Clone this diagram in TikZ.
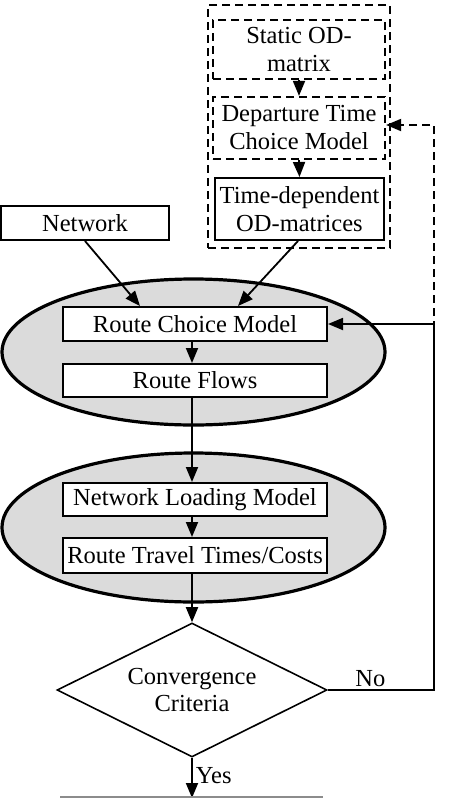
\documentclass[tikz,border=0pt]{standalone}
\usepackage{fontspec}
\setmainfont{Liberation Serif}
\usetikzlibrary{arrows.meta,shapes.geometric}
\begin{document}
\begin{tikzpicture}[x=1pt,y=-1pt,
  font=\fontsize{24.5}{28}\selectfont,
  box/.style={draw,line width=2pt,fill=white,inner sep=0pt,align=center},
  dbox/.style={draw,line width=2.2pt,dash pattern=on 8pt off 5pt,inner sep=0pt,align=center},
  ell/.style={draw,ellipse,line width=3.2pt,fill=black!14,inner sep=0pt},
  arr/.style={line width=1.8pt,-{Triangle[length=15pt,width=12pt]}},
  darr/.style={line width=1.8pt,dash pattern=on 8pt off 5pt,-{Triangle[length=15pt,width=12pt]}}]
\useasboundingbox (0,0) rectangle (474,798);
% dashed group
\node[dbox,minimum width=182pt,minimum height=243pt] (grp) at (299,126.5) {};
\node[dbox,minimum width=172pt,minimum height=59pt] (stat) at (299,49.5) {Static OD-\\matrix};
\node[dbox,minimum width=172pt,minimum height=62pt] (dep) at (299,128) {Departure Time\\Choice Model};
\node[box,minimum width=169pt,minimum height=62pt] (td) at (299.5,209) {Time-dependent\\OD-matrices};
\node[box,minimum width=168pt,minimum height=34pt] (net) at (85,223) {Network};
% ellipses
\node[ell,minimum width=383pt,minimum height=146pt] (ell1) at (193.5,352) {};
\node[ell,minimum width=383pt,minimum height=149pt] (ell2) at (193.5,527.5) {};
\node[box,minimum width=264pt,minimum height=34pt] (rcm) at (195,324) {Route Choice Model};
\node[box,minimum width=264pt,minimum height=33pt] (rf) at (195,380.5) {Route Flows};
\node[box,minimum width=264pt,minimum height=33pt] (nlm) at (195,499.5) {Network Loading Model};
\node[box,minimum width=264pt,minimum height=35pt] (rtt) at (195,555.5) {Route Travel Times/Costs};
\node[draw,diamond,line width=1.6pt,inner sep=0pt,aspect=2,minimum width=270pt,minimum height=134pt,align=center] (conv) at (192,690) {Convergence\\Criteria};
\coordinate (nocorner) at (434,324);
\coordinate (outend) at (192,798);
% connectors
\draw[arr] (stat.south) -- (dep.north);
\draw[arr] (dep.south) -- (td.north);
\draw[arr] (net.south) -- ([xshift=-55pt]rcm.north);
\draw[arr] ([xshift=-1.5pt]td.south) -- ([xshift=43pt]rcm.north);
\draw[arr] (rcm.south -| conv.center) -- (rf.north -| conv.center);
\draw[arr] (rf.south -| conv.center) -- (nlm.north -| conv.center);
\draw[arr] (nlm.south -| conv.center) -- (rtt.north -| conv.center);
\draw[arr] (rtt.south -| conv.center) -- (conv.north);
\draw[arr] (conv.east) -| node[pos=0.2,above,inner sep=2pt] {No} (nocorner) -- (rcm.east);
\draw[darr] ([yshift=-5pt]nocorner) |- ([yshift=3pt]dep.east);
\draw[arr] (conv.south) -- node[right,inner sep=3pt,pos=0.45] {Yes} (outend);
\draw[line width=3pt,black!45] (60,797.5) -- (323,797.5);
\end{tikzpicture}
\end{document}
